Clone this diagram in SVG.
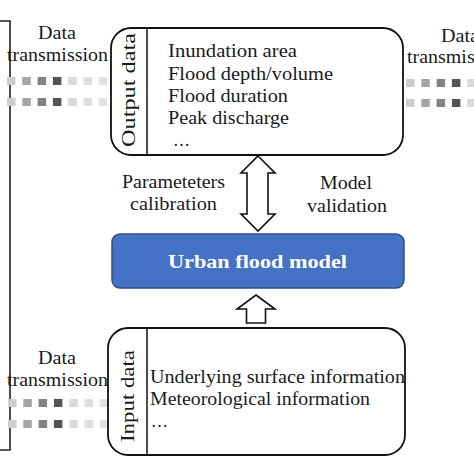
<svg xmlns="http://www.w3.org/2000/svg" width="474" height="474" viewBox="0 0 474 474">
<style>
text{font-family:"Liberation Serif","Times New Roman",serif;font-size:18.5px;fill:#1a1a1a}
.box{fill:#fff;stroke:#111;stroke-width:1.8}
.div{stroke:#111;stroke-width:1.5}
.arrow{fill:#fff;stroke:#111;stroke-width:1.6;stroke-linejoin:miter}
.bl{fill:none;stroke:#222;stroke-width:1.6}
.c1{fill:#cdcdcd}.c2{fill:#a6a6a6}.c3{fill:#838383}.c4{fill:#545454}.c5{fill:#dadada}.c6{fill:#dedede}.c7{fill:#e2e2e2}
.title{font-weight:bold;fill:#fff;font-size:18.5px}
</style>
<defs>
<g id="sq">
<rect class="c1" x="0" y="0" width="8.5" height="8"/>
<rect class="c2" x="15.3" y="0" width="8.5" height="8"/>
<rect class="c3" x="30.6" y="0" width="8.5" height="8"/>
<rect class="c4" x="45.9" y="0" width="8.5" height="8"/>
<rect class="c5" x="61.2" y="0" width="8.5" height="8"/>
<rect class="c6" x="76.5" y="0" width="8.5" height="8"/>
<rect class="c7" x="91.8" y="0" width="8.5" height="8"/>
</g>
</defs>
<rect width="474" height="474" fill="#fff"/>
<path class="bl" d="M0,21 H10 V450 H0"/>

<g id="dt-left-top">
<text x="38" y="39" textLength="38" lengthAdjust="spacingAndGlyphs">Data</text>
<text x="7" y="61" textLength="101" lengthAdjust="spacingAndGlyphs">transmission</text>
<use href="#sq" x="7" y="77"/>
<use href="#sq" x="7" y="98"/>
</g>
<g id="dt-right-top">
<text x="441" y="42" textLength="38" lengthAdjust="spacingAndGlyphs">Data</text>
<text x="407" y="63" textLength="101" lengthAdjust="spacingAndGlyphs">transmission</text>
<use href="#sq" x="406" y="79"/>
<use href="#sq" x="406" y="99"/>
</g>
<g id="dt-left-bottom">
<text x="38" y="364" textLength="38" lengthAdjust="spacingAndGlyphs">Data</text>
<text x="7" y="386" textLength="101" lengthAdjust="spacingAndGlyphs">transmission</text>
<use href="#sq" x="8" y="399"/>
<use href="#sq" x="8" y="420"/>
</g>

<g id="output-data">
<rect class="box" x="111" y="28" width="292" height="127" rx="20"/>
<line class="div" x1="147" y1="28" x2="147" y2="155"/>
<text transform="translate(135,90) rotate(-90)" text-anchor="middle" textLength="114" lengthAdjust="spacingAndGlyphs" style="font-size:19.5px">Output data</text>
<text x="168" y="57" textLength="129" lengthAdjust="spacingAndGlyphs">Inundation area</text>
<text x="168" y="80" textLength="165" lengthAdjust="spacingAndGlyphs">Flood depth/volume</text>
<text x="168" y="102" textLength="120" lengthAdjust="spacingAndGlyphs">Flood duration</text>
<text x="168" y="124" textLength="121" lengthAdjust="spacingAndGlyphs">Peak discharge</text>
<text x="173" y="146" textLength="17" lengthAdjust="spacingAndGlyphs">…</text>
</g>

<g id="urban-flood-model">
<rect x="112" y="234" width="292" height="54" rx="8" fill="#4472C4" stroke="#2F4F8A" stroke-width="1.5"/>
<text class="title" x="168" y="268" textLength="179" lengthAdjust="spacingAndGlyphs">Urban flood model</text>
</g>

<g id="input-data">
<rect class="box" x="108" y="328" width="297" height="127" rx="20"/>
<line class="div" x1="147" y1="328" x2="147" y2="455"/>
<text transform="translate(134,396) rotate(-90)" text-anchor="middle" textLength="92" lengthAdjust="spacingAndGlyphs" style="font-size:19.5px">Input data</text>
<text x="150" y="383" textLength="255" lengthAdjust="spacingAndGlyphs">Underlying surface information</text>
<text x="150" y="405" textLength="220" lengthAdjust="spacingAndGlyphs">Meteorological information</text>
<text x="151" y="427" textLength="17" lengthAdjust="spacingAndGlyphs">…</text>
</g>

<g id="connectors">
<polygon class="arrow" points="258,156 275,173 268,173 268,214 275,214 258,231 241,214 247,214 247,173 241,173"/>
<polygon class="arrow" points="256,295 275,309 265.5,309 265.5,323 246.5,323 246.5,309 237,309"/>
<text x="122" y="188" textLength="103" lengthAdjust="spacingAndGlyphs">Parameteters</text>
<text x="130" y="210" textLength="87" lengthAdjust="spacingAndGlyphs">calibration</text>
<text x="320" y="189" textLength="52" lengthAdjust="spacingAndGlyphs">Model</text>
<text x="307" y="212" textLength="80" lengthAdjust="spacingAndGlyphs">validation</text>
</g>
</svg>
